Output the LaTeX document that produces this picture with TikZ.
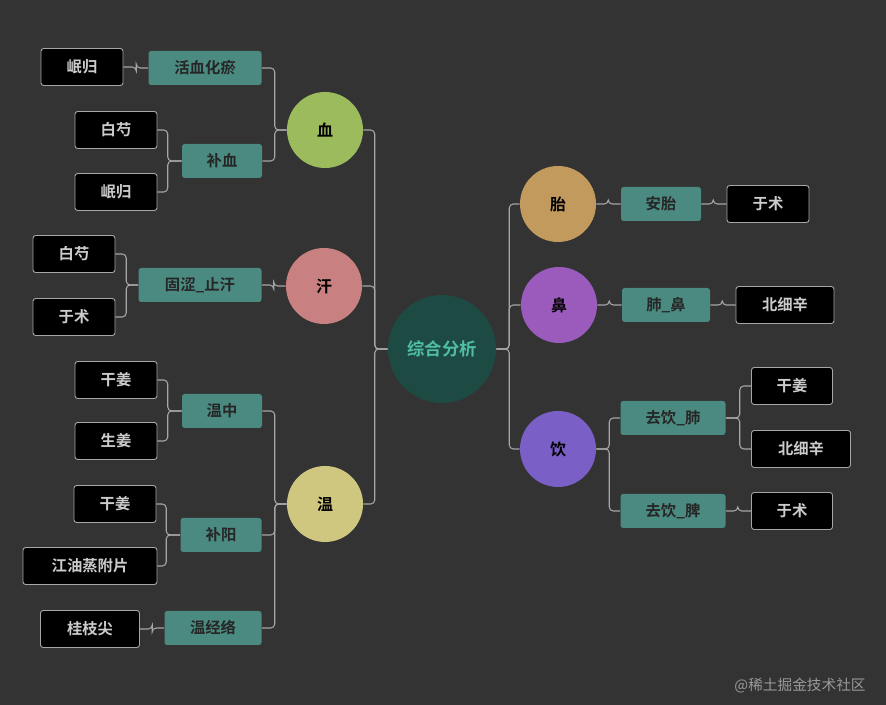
\documentclass[tikz,border=0pt]{standalone}
\usepackage{fontspec}
\setmainfont{Noto Sans CJK SC}
\newfontfamily\cjkb{Noto Sans CJK SC Bold}
\begin{document}
\begin{tikzpicture}[x=0.75pt,y=-0.75pt,
  conn/.style={draw=gray!70,line width=0.8pt,rounded corners=3pt},
  hub/.style={circle,minimum size=76*0.75pt,inner sep=0pt,font=\cjkb\fontsize{12}{12}\selectfont,text=black},
  mid/.style={rectangle,rounded corners=2pt,fill=teal4,minimum height=34*0.75pt,inner sep=0pt,font=\cjkb\fontsize{11.5}{12}\selectfont,text=black!85},
  leaf/.style={rectangle,rounded corners=2pt,fill=black,draw=gray!70,line width=0.7pt,minimum height=37*0.75pt,inner sep=0pt,font=\cjkb\fontsize{11.5}{12}\selectfont,text=gray!40}]
\definecolor{teal4}{HTML}{4A8A80}
\fill[fill={rgb,255:red,51;green,51;blue,51}] (0,0) rectangle (886,705);
\node[circle,minimum size=108*0.75pt,fill={rgb,255:red,30;green,74;blue,68},text={rgb,255:red,80;green,190;blue,160},font=\cjkb\fontsize{13}{13}\selectfont] (c) at (442,349) {综合分析};
\node[hub,fill={rgb,255:red,156;green,187;blue,92}] (xue) at (325,130) {血};
\node[hub,fill={rgb,255:red,201;green,128;blue,128}] (han) at (324,286) {汗};
\node[hub,fill={rgb,255:red,207;green,198;blue,127}] (wen) at (325,504) {温};
\node[hub,fill={rgb,255:red,194;green,154;blue,94}] (tai) at (558,204) {胎};
\node[hub,fill={rgb,255:red,154;green,91;blue,189}] (bi) at (559,305) {鼻};
\node[hub,fill={rgb,255:red,122;green,95;blue,198}] (yin) at (558,449) {饮};
\node[mid,minimum width=113*0.75pt] (m1) at (205,68) {活血化瘀};
\node[mid,minimum width=80*0.75pt] (m2) at (222,161) {补血};
\node[mid,minimum width=123*0.75pt] (m3) at (200,285) {固涩\_止汗};
\node[mid,minimum width=80*0.75pt] (m4) at (222,411) {温中};
\node[mid,minimum width=81*0.75pt] (m5) at (221,535) {补阳};
\node[mid,minimum width=97*0.75pt] (m6) at (213,628) {温经络};
\node[mid,minimum width=80*0.75pt] (m7) at (661,204) {安胎};
\node[mid,minimum width=88*0.75pt] (m8) at (666,305) {肺\_鼻};
\node[mid,minimum width=105*0.75pt] (m9) at (673,418) {去饮\_肺};
\node[mid,minimum width=105*0.75pt] (m10) at (673,511) {去饮\_脾};
\node[leaf,minimum width=82*0.75pt] (l1) at (82,67) {岷归};
\node[leaf,minimum width=82*0.75pt] (l2) at (116,130) {白芍};
\node[leaf,minimum width=82*0.75pt] (l3) at (116,192) {岷归};
\node[leaf,minimum width=82*0.75pt] (l4) at (74,254) {白芍};
\node[leaf,minimum width=82*0.75pt] (l5) at (74,317) {于术};
\node[leaf,minimum width=82*0.75pt] (l6) at (116,380) {干姜};
\node[leaf,minimum width=82*0.75pt] (l7) at (116,441) {生姜};
\node[leaf,minimum width=82*0.75pt] (l8) at (115,504) {干姜};
\node[leaf,minimum width=134*0.75pt] (l9) at (90,566) {江油蒸附片};
\node[leaf,minimum width=99*0.75pt] (l10) at (90,629) {桂枝尖};
\node[leaf,minimum width=82*0.75pt] (r1) at (768,204) {于术};
\node[leaf,minimum width=98*0.75pt] (r2) at (785,305) {北细辛};
\node[leaf,minimum width=81*0.75pt] (r3) at (792,386) {干姜};
\node[leaf,minimum width=99*0.75pt] (r4) at (801,449) {北细辛};
\node[leaf,minimum width=81*0.75pt] (r5) at (792,511) {于术};
\foreach \p/\k/\d in {c/xue/13,c/han/13,c/wen/13,xue/m1/12,xue/m2/12,han/m3/12,wen/m4/12,wen/m5/12,wen/m6/12,m1/l1/12,m2/l2/14,m2/l3/14,m3/l4/12,m3/l5/12,m4/l6/14,m4/l7/14,m5/l8/14,m5/l9/14,m6/l10/12}
  \draw[conn] (\p.west) -- ++(-\d,0) |- (\k.east);
\foreach \p/\k/\d in {c/tai/13,c/bi/13,c/yin/13,tai/m7/12,bi/m8/12,yin/m9/13,yin/m10/13,m7/r1/12,m8/r2/12,m9/r3/14,m9/r4/14,m10/r5/12}
  \draw[conn] (\p.east) -- ++(\d,0) |- (\k.west);
\node[text=gray!80,font=\fontsize{11}{11}\selectfont] (wm) at (800,686) {@稀土掘金技术社区};
\end{tikzpicture}
\end{document}
